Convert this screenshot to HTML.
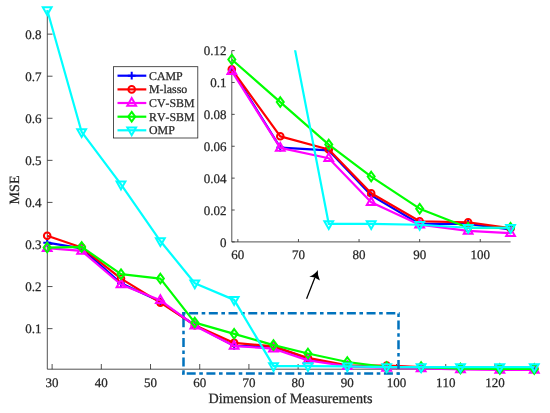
<!DOCTYPE html>
<html><head><meta charset="utf-8"><title>MSE vs Dimension of Measurements</title>
<style>
html,body{margin:0;padding:0;background:#fff;}
body{width:550px;height:413px;overflow:hidden;}
svg{display:block;}
text{font-family:"Liberation Serif","Times New Roman",serif;fill:#262626;stroke:#262626;stroke-width:0.25px;text-rendering:geometricPrecision;font-kerning:none;}
</style></head><body>
<svg width="550" height="413" viewBox="0 0 550 413">
<rect width="550" height="413" fill="#fff"/>
<defs>
<clipPath id="cm"><rect x="40" y="0" width="505" height="376"/></clipPath>
<clipPath id="ci"><rect x="226" y="50.2" width="292" height="198"/></clipPath>
</defs>

<g stroke="#262626" stroke-width="0.8" fill="none">
<path d="M47.3 10.6V369.2H534.3"/>
<path d="M47.3 328.63h5.2"/>
<path d="M47.3 286.56h5.2"/>
<path d="M47.3 244.49h5.2"/>
<path d="M47.3 202.42h5.2"/>
<path d="M47.3 160.35h5.2"/>
<path d="M47.3 118.28h5.2"/>
<path d="M47.3 76.21h5.2"/>
<path d="M47.3 34.14h5.2"/>
<path d="M52.12 369.2v-5.2"/>
<path d="M101.32 369.2v-5.2"/>
<path d="M150.52 369.2v-5.2"/>
<path d="M199.72 369.2v-5.2"/>
<path d="M248.92 369.2v-5.2"/>
<path d="M298.12 369.2v-5.2"/>
<path d="M347.32 369.2v-5.2"/>
<path d="M396.52 369.2v-5.2"/>
<path d="M445.72 369.2v-5.2"/>
<path d="M494.92 369.2v-5.2"/>
</g>
<g font-size="13.0" text-anchor="end">
<text x="41.6" y="333.23">0.1</text>
<text x="41.6" y="291.16">0.2</text>
<text x="41.6" y="249.09">0.3</text>
<text x="41.6" y="207.02">0.4</text>
<text x="41.6" y="164.95">0.5</text>
<text x="41.6" y="122.88">0.6</text>
<text x="41.6" y="80.81">0.7</text>
<text x="41.6" y="38.74">0.8</text>
</g>
<g font-size="13.0" text-anchor="middle">
<text x="52.12" y="387.0">30</text>
<text x="101.32" y="387.0">40</text>
<text x="150.52" y="387.0">50</text>
<text x="199.72" y="387.0">60</text>
<text x="248.92" y="387.0">70</text>
<text x="298.12" y="387.0">80</text>
<text x="347.32" y="387.0">90</text>
<text x="396.52" y="387.0">100</text>
<text x="445.72" y="387.0">110</text>
<text x="494.92" y="387.0">120</text>
</g>
<text x="290.5" y="403.2" font-size="14.2" text-anchor="middle">Dimension of Measurements</text>
<text transform="translate(19.3 190) rotate(-90)" font-size="14.1" text-anchor="middle">MSE</text>
<g fill="none" stroke="#0072bd" stroke-width="2.5">
<path d="M182.25 313.3H399.65" stroke-dasharray="9 3.56 3.6 3.56" stroke-dashoffset="12.87"/>
<path d="M182.25 373.5H399.65" stroke-dasharray="9 3.56 3.6 3.56" stroke-dashoffset="15.27"/>
<path d="M183.5 312.05V327.3M183.5 330.75V334.35M183.5 337.9V346.9M183.5 350.45V354.05M183.5 357.6V366.6M183.5 370.15V374.75"/>
</g>
<g clip-path="url(#cm)">
<polyline points="47.20,242.70 81.64,248.40 121.00,283.21 160.36,301.57 194.80,325.26 234.16,345.88 273.52,346.64 307.96,358.50 347.32,366.07 386.68,366.07 421.12,367.54 460.48,368.18 499.84,368.60 534.28,368.60" fill="none" stroke="#0000ff" stroke-width="2.2" stroke-linejoin="round"/>
<path d="M43.30 242.70H51.10M47.20 238.80V246.60" stroke="#0000ff" stroke-width="2.0" fill="none"/>
<path d="M77.74 248.40H85.54M81.64 244.50V252.30" stroke="#0000ff" stroke-width="2.0" fill="none"/>
<path d="M117.10 283.21H124.90M121.00 279.31V287.11" stroke="#0000ff" stroke-width="2.0" fill="none"/>
<path d="M156.46 301.57H164.26M160.36 297.67V305.47" stroke="#0000ff" stroke-width="2.0" fill="none"/>
<path d="M190.90 325.26H198.70M194.80 321.36V329.16" stroke="#0000ff" stroke-width="2.0" fill="none"/>
<path d="M230.26 345.88H238.06M234.16 341.98V349.78" stroke="#0000ff" stroke-width="2.0" fill="none"/>
<path d="M269.62 346.64H277.42M273.52 342.74V350.54" stroke="#0000ff" stroke-width="2.0" fill="none"/>
<path d="M304.06 358.50H311.86M307.96 354.60V362.40" stroke="#0000ff" stroke-width="2.0" fill="none"/>
<path d="M343.42 366.07H351.22M347.32 362.17V369.97" stroke="#0000ff" stroke-width="2.0" fill="none"/>
<path d="M382.78 366.07H390.58M386.68 362.17V369.97" stroke="#0000ff" stroke-width="2.0" fill="none"/>
<path d="M417.22 367.54H425.02M421.12 363.64V371.44" stroke="#0000ff" stroke-width="2.0" fill="none"/>
<path d="M456.58 368.18H464.38M460.48 364.28V372.08" stroke="#0000ff" stroke-width="2.0" fill="none"/>
<path d="M495.94 368.60H503.74M499.84 364.70V372.50" stroke="#0000ff" stroke-width="2.0" fill="none"/>
<path d="M530.38 368.60H538.18M534.28 364.70V372.50" stroke="#0000ff" stroke-width="2.0" fill="none"/>
<polyline points="47.20,235.74 81.64,247.55 121.00,278.57 160.36,302.62 194.80,325.18 234.16,342.89 273.52,346.38 307.96,357.95 347.32,365.36 386.68,365.65 421.12,367.17 460.48,368.09 499.84,368.60 534.28,368.60" fill="none" stroke="#ff0000" stroke-width="2.2" stroke-linejoin="round"/>
<circle cx="47.20" cy="235.74" r="3.3" stroke="#ff0000" stroke-width="2.0" fill="none"/>
<circle cx="81.64" cy="247.55" r="3.3" stroke="#ff0000" stroke-width="2.0" fill="none"/>
<circle cx="121.00" cy="278.57" r="3.3" stroke="#ff0000" stroke-width="2.0" fill="none"/>
<circle cx="160.36" cy="302.62" r="3.3" stroke="#ff0000" stroke-width="2.0" fill="none"/>
<circle cx="194.80" cy="325.18" r="3.3" stroke="#ff0000" stroke-width="2.0" fill="none"/>
<circle cx="234.16" cy="342.89" r="3.3" stroke="#ff0000" stroke-width="2.0" fill="none"/>
<circle cx="273.52" cy="346.38" r="3.3" stroke="#ff0000" stroke-width="2.0" fill="none"/>
<circle cx="307.96" cy="357.95" r="3.3" stroke="#ff0000" stroke-width="2.0" fill="none"/>
<circle cx="347.32" cy="365.36" r="3.3" stroke="#ff0000" stroke-width="2.0" fill="none"/>
<circle cx="386.68" cy="365.65" r="3.3" stroke="#ff0000" stroke-width="2.0" fill="none"/>
<circle cx="421.12" cy="367.17" r="3.3" stroke="#ff0000" stroke-width="2.0" fill="none"/>
<circle cx="460.48" cy="368.09" r="3.3" stroke="#ff0000" stroke-width="2.0" fill="none"/>
<circle cx="499.84" cy="368.60" r="3.3" stroke="#ff0000" stroke-width="2.0" fill="none"/>
<circle cx="534.28" cy="368.60" r="3.3" stroke="#ff0000" stroke-width="2.0" fill="none"/>
<polyline points="47.20,248.19 81.64,250.93 121.00,284.48 160.36,300.30 194.80,325.69 234.16,345.96 273.52,348.70 307.96,360.35 347.32,366.28 386.68,367.92 421.12,368.51 460.48,369.44 499.84,369.86 534.28,369.86" fill="none" stroke="#ff00ff" stroke-width="2.2" stroke-linejoin="round"/>
<path d="M47.20 243.19L51.60 250.99H42.80Z" stroke="#ff00ff" stroke-width="2.0" fill="none" stroke-linejoin="miter"/>
<path d="M81.64 245.93L86.04 253.73H77.24Z" stroke="#ff00ff" stroke-width="2.0" fill="none" stroke-linejoin="miter"/>
<path d="M121.00 279.48L125.40 287.28H116.60Z" stroke="#ff00ff" stroke-width="2.0" fill="none" stroke-linejoin="miter"/>
<path d="M160.36 295.30L164.76 303.10H155.96Z" stroke="#ff00ff" stroke-width="2.0" fill="none" stroke-linejoin="miter"/>
<path d="M194.80 320.69L199.20 328.49H190.40Z" stroke="#ff00ff" stroke-width="2.0" fill="none" stroke-linejoin="miter"/>
<path d="M234.16 340.96L238.56 348.76H229.76Z" stroke="#ff00ff" stroke-width="2.0" fill="none" stroke-linejoin="miter"/>
<path d="M273.52 343.70L277.92 351.50H269.12Z" stroke="#ff00ff" stroke-width="2.0" fill="none" stroke-linejoin="miter"/>
<path d="M307.96 355.35L312.36 363.15H303.56Z" stroke="#ff00ff" stroke-width="2.0" fill="none" stroke-linejoin="miter"/>
<path d="M347.32 361.28L351.72 369.08H342.92Z" stroke="#ff00ff" stroke-width="2.0" fill="none" stroke-linejoin="miter"/>
<path d="M386.68 362.92L391.08 370.72H382.28Z" stroke="#ff00ff" stroke-width="2.0" fill="none" stroke-linejoin="miter"/>
<path d="M421.12 363.51L425.52 371.31H416.72Z" stroke="#ff00ff" stroke-width="2.0" fill="none" stroke-linejoin="miter"/>
<path d="M460.48 364.44L464.88 372.24H456.08Z" stroke="#ff00ff" stroke-width="2.0" fill="none" stroke-linejoin="miter"/>
<path d="M499.84 364.86L504.24 372.66H495.44Z" stroke="#ff00ff" stroke-width="2.0" fill="none" stroke-linejoin="miter"/>
<path d="M534.28 364.86L538.68 372.66H529.88Z" stroke="#ff00ff" stroke-width="2.0" fill="none" stroke-linejoin="miter"/>
<polyline points="47.20,247.55 81.64,246.92 121.00,274.14 160.36,278.61 194.80,322.57 234.16,333.85 273.52,345.08 307.96,353.54 347.32,362.03 386.68,367.08 421.12,367.08 460.48,368.60 499.84,369.02 534.28,369.02" fill="none" stroke="#00ff00" stroke-width="2.2" stroke-linejoin="round"/>
<path d="M47.20 242.75L50.70 247.55L47.20 252.35L43.70 247.55Z" stroke="#00ff00" stroke-width="2.0" fill="none" stroke-linejoin="miter"/>
<path d="M81.64 242.12L85.14 246.92L81.64 251.72L78.14 246.92Z" stroke="#00ff00" stroke-width="2.0" fill="none" stroke-linejoin="miter"/>
<path d="M121.00 269.34L124.50 274.14L121.00 278.94L117.50 274.14Z" stroke="#00ff00" stroke-width="2.0" fill="none" stroke-linejoin="miter"/>
<path d="M160.36 273.81L163.86 278.61L160.36 283.41L156.86 278.61Z" stroke="#00ff00" stroke-width="2.0" fill="none" stroke-linejoin="miter"/>
<path d="M194.80 317.77L198.30 322.57L194.80 327.37L191.30 322.57Z" stroke="#00ff00" stroke-width="2.0" fill="none" stroke-linejoin="miter"/>
<path d="M234.16 329.05L237.66 333.85L234.16 338.65L230.66 333.85Z" stroke="#00ff00" stroke-width="2.0" fill="none" stroke-linejoin="miter"/>
<path d="M273.52 340.28L277.02 345.08L273.52 349.88L270.02 345.08Z" stroke="#00ff00" stroke-width="2.0" fill="none" stroke-linejoin="miter"/>
<path d="M307.96 348.74L311.46 353.54L307.96 358.34L304.46 353.54Z" stroke="#00ff00" stroke-width="2.0" fill="none" stroke-linejoin="miter"/>
<path d="M347.32 357.23L350.82 362.03L347.32 366.83L343.82 362.03Z" stroke="#00ff00" stroke-width="2.0" fill="none" stroke-linejoin="miter"/>
<path d="M386.68 362.28L390.18 367.08L386.68 371.88L383.18 367.08Z" stroke="#00ff00" stroke-width="2.0" fill="none" stroke-linejoin="miter"/>
<path d="M421.12 362.28L424.62 367.08L421.12 371.88L417.62 367.08Z" stroke="#00ff00" stroke-width="2.0" fill="none" stroke-linejoin="miter"/>
<path d="M460.48 363.80L463.98 368.60L460.48 373.40L456.98 368.60Z" stroke="#00ff00" stroke-width="2.0" fill="none" stroke-linejoin="miter"/>
<path d="M499.84 364.22L503.34 369.02L499.84 373.82L496.34 369.02Z" stroke="#00ff00" stroke-width="2.0" fill="none" stroke-linejoin="miter"/>
<path d="M534.28 364.22L537.78 369.02L534.28 373.82L530.78 369.02Z" stroke="#00ff00" stroke-width="2.0" fill="none" stroke-linejoin="miter"/>
<polyline points="47.20,9.97 81.64,131.93 121.00,184.38 160.36,241.01 194.80,283.21 234.16,299.88 273.52,366.07 307.96,366.07 347.32,366.28 386.68,367.08 421.12,367.08 460.48,367.08 499.84,367.08 534.28,367.08" fill="none" stroke="#00ffff" stroke-width="2.2" stroke-linejoin="round"/>
<path d="M47.20 14.97L51.60 7.17H42.80Z" stroke="#00ffff" stroke-width="2.0" fill="none" stroke-linejoin="miter"/>
<path d="M81.64 136.93L86.04 129.13H77.24Z" stroke="#00ffff" stroke-width="2.0" fill="none" stroke-linejoin="miter"/>
<path d="M121.00 189.38L125.40 181.58H116.60Z" stroke="#00ffff" stroke-width="2.0" fill="none" stroke-linejoin="miter"/>
<path d="M160.36 246.01L164.76 238.21H155.96Z" stroke="#00ffff" stroke-width="2.0" fill="none" stroke-linejoin="miter"/>
<path d="M194.80 288.21L199.20 280.41H190.40Z" stroke="#00ffff" stroke-width="2.0" fill="none" stroke-linejoin="miter"/>
<path d="M234.16 304.88L238.56 297.08H229.76Z" stroke="#00ffff" stroke-width="2.0" fill="none" stroke-linejoin="miter"/>
<path d="M273.52 371.07L277.92 363.27H269.12Z" stroke="#00ffff" stroke-width="2.0" fill="none" stroke-linejoin="miter"/>
<path d="M307.96 371.07L312.36 363.27H303.56Z" stroke="#00ffff" stroke-width="2.0" fill="none" stroke-linejoin="miter"/>
<path d="M347.32 371.28L351.72 363.48H342.92Z" stroke="#00ffff" stroke-width="2.0" fill="none" stroke-linejoin="miter"/>
<path d="M386.68 372.08L391.08 364.28H382.28Z" stroke="#00ffff" stroke-width="2.0" fill="none" stroke-linejoin="miter"/>
<path d="M421.12 372.08L425.52 364.28H416.72Z" stroke="#00ffff" stroke-width="2.0" fill="none" stroke-linejoin="miter"/>
<path d="M460.48 372.08L464.88 364.28H456.08Z" stroke="#00ffff" stroke-width="2.0" fill="none" stroke-linejoin="miter"/>
<path d="M499.84 372.08L504.24 364.28H495.44Z" stroke="#00ffff" stroke-width="2.0" fill="none" stroke-linejoin="miter"/>
<path d="M534.28 372.08L538.68 364.28H529.88Z" stroke="#00ffff" stroke-width="2.0" fill="none" stroke-linejoin="miter"/>
</g>
<path d="M398.5 312.05V374.75" fill="none" stroke="#0072bd" stroke-width="2.5" stroke-dasharray="9 3.56 3.6 3.56" stroke-dashoffset="11.17"/>
<g stroke="#262626" stroke-width="0.8" fill="none">
<path d="M231.8 50.6V241.9H510.6"/>
<path d="M231.8 241.90h2.9"/>
<path d="M231.8 210.02h2.9"/>
<path d="M231.8 178.13h2.9"/>
<path d="M231.8 146.25h2.9"/>
<path d="M231.8 114.36h2.9"/>
<path d="M231.8 82.48h2.9"/>
<path d="M231.8 50.60h2.9"/>
<path d="M237.86 241.9v-2.9"/>
<path d="M298.46 241.9v-2.9"/>
<path d="M359.06 241.9v-2.9"/>
<path d="M419.66 241.9v-2.9"/>
<path d="M480.26 241.9v-2.9"/>
</g>
<g font-size="13.0" text-anchor="end">
<text x="226.4" y="246.50">0</text>
<text x="226.4" y="214.62">0.02</text>
<text x="226.4" y="182.73">0.04</text>
<text x="226.4" y="150.85">0.06</text>
<text x="226.4" y="118.96">0.08</text>
<text x="226.4" y="87.08">0.1</text>
<text x="226.4" y="55.20">0.12</text>
</g>
<g font-size="13.0" text-anchor="middle">
<text x="237.86" y="259.4">60</text>
<text x="298.46" y="259.4">70</text>
<text x="359.06" y="259.4">80</text>
<text x="419.66" y="259.4">90</text>
<text x="480.26" y="259.4">100</text>
</g>
<g clip-path="url(#ci)">
<polyline points="231.80,69.68 280.28,147.61 328.76,150.47 371.18,195.33 419.66,223.95 468.14,223.95 510.56,229.52" fill="none" stroke="#0000ff" stroke-width="2.2" stroke-linejoin="round"/>
<path d="M227.90 69.68H235.70M231.80 65.78V73.58" stroke="#0000ff" stroke-width="2.0" fill="none"/>
<path d="M276.38 147.61H284.18M280.28 143.71V151.51" stroke="#0000ff" stroke-width="2.0" fill="none"/>
<path d="M324.86 150.47H332.66M328.76 146.57V154.37" stroke="#0000ff" stroke-width="2.0" fill="none"/>
<path d="M367.28 195.33H375.08M371.18 191.43V199.23" stroke="#0000ff" stroke-width="2.0" fill="none"/>
<path d="M415.76 223.95H423.56M419.66 220.05V227.85" stroke="#0000ff" stroke-width="2.0" fill="none"/>
<path d="M464.24 223.95H472.04M468.14 220.05V227.85" stroke="#0000ff" stroke-width="2.0" fill="none"/>
<path d="M506.66 229.52H514.46M510.56 225.62V233.42" stroke="#0000ff" stroke-width="2.0" fill="none"/>
<polyline points="231.80,69.36 280.28,136.32 328.76,149.52 371.18,193.26 419.66,221.25 468.14,222.36 510.56,228.09" fill="none" stroke="#ff0000" stroke-width="2.2" stroke-linejoin="round"/>
<circle cx="231.80" cy="69.36" r="3.3" stroke="#ff0000" stroke-width="2.0" fill="none"/>
<circle cx="280.28" cy="136.32" r="3.3" stroke="#ff0000" stroke-width="2.0" fill="none"/>
<circle cx="328.76" cy="149.52" r="3.3" stroke="#ff0000" stroke-width="2.0" fill="none"/>
<circle cx="371.18" cy="193.26" r="3.3" stroke="#ff0000" stroke-width="2.0" fill="none"/>
<circle cx="419.66" cy="221.25" r="3.3" stroke="#ff0000" stroke-width="2.0" fill="none"/>
<circle cx="468.14" cy="222.36" r="3.3" stroke="#ff0000" stroke-width="2.0" fill="none"/>
<circle cx="510.56" cy="228.09" r="3.3" stroke="#ff0000" stroke-width="2.0" fill="none"/>
<polyline points="231.80,71.27 280.28,147.93 328.76,158.27 371.18,202.32 419.66,224.75 468.14,230.95 510.56,233.18" fill="none" stroke="#ff00ff" stroke-width="2.2" stroke-linejoin="round"/>
<path d="M231.80 66.27L236.20 74.07H227.40Z" stroke="#ff00ff" stroke-width="2.0" fill="none" stroke-linejoin="miter"/>
<path d="M280.28 142.93L284.68 150.73H275.88Z" stroke="#ff00ff" stroke-width="2.0" fill="none" stroke-linejoin="miter"/>
<path d="M328.76 153.27L333.16 161.07H324.36Z" stroke="#ff00ff" stroke-width="2.0" fill="none" stroke-linejoin="miter"/>
<path d="M371.18 197.32L375.58 205.12H366.78Z" stroke="#ff00ff" stroke-width="2.0" fill="none" stroke-linejoin="miter"/>
<path d="M419.66 219.75L424.06 227.55H415.26Z" stroke="#ff00ff" stroke-width="2.0" fill="none" stroke-linejoin="miter"/>
<path d="M468.14 225.95L472.54 233.75H463.74Z" stroke="#ff00ff" stroke-width="2.0" fill="none" stroke-linejoin="miter"/>
<path d="M510.56 228.18L514.96 235.98H506.16Z" stroke="#ff00ff" stroke-width="2.0" fill="none" stroke-linejoin="miter"/>
<polyline points="231.80,59.50 280.28,102.12 328.76,144.59 371.18,176.56 419.66,208.69 468.14,227.77 510.56,227.77" fill="none" stroke="#00ff00" stroke-width="2.2" stroke-linejoin="round"/>
<path d="M231.80 54.70L235.30 59.50L231.80 64.30L228.30 59.50Z" stroke="#00ff00" stroke-width="2.0" fill="none" stroke-linejoin="miter"/>
<path d="M280.28 97.32L283.78 102.12L280.28 106.92L276.78 102.12Z" stroke="#00ff00" stroke-width="2.0" fill="none" stroke-linejoin="miter"/>
<path d="M328.76 139.79L332.26 144.59L328.76 149.39L325.26 144.59Z" stroke="#00ff00" stroke-width="2.0" fill="none" stroke-linejoin="miter"/>
<path d="M371.18 171.76L374.68 176.56L371.18 181.36L367.68 176.56Z" stroke="#00ff00" stroke-width="2.0" fill="none" stroke-linejoin="miter"/>
<path d="M419.66 203.89L423.16 208.69L419.66 213.49L416.16 208.69Z" stroke="#00ff00" stroke-width="2.0" fill="none" stroke-linejoin="miter"/>
<path d="M468.14 222.97L471.64 227.77L468.14 232.57L464.64 227.77Z" stroke="#00ff00" stroke-width="2.0" fill="none" stroke-linejoin="miter"/>
<path d="M510.56 222.97L514.06 227.77L510.56 232.57L507.06 227.77Z" stroke="#00ff00" stroke-width="2.0" fill="none" stroke-linejoin="miter"/>
<polyline points="231.80,-89.30 280.28,-26.28 328.76,223.95 371.18,223.95 419.66,224.75 468.14,227.77 510.56,227.77" fill="none" stroke="#00ffff" stroke-width="2.2" stroke-linejoin="round"/>
<path d="M328.76 228.95L333.16 221.15H324.36Z" stroke="#00ffff" stroke-width="2.0" fill="none" stroke-linejoin="miter"/>
<path d="M371.18 228.95L375.58 221.15H366.78Z" stroke="#00ffff" stroke-width="2.0" fill="none" stroke-linejoin="miter"/>
<path d="M419.66 229.75L424.06 221.95H415.26Z" stroke="#00ffff" stroke-width="2.0" fill="none" stroke-linejoin="miter"/>
<path d="M468.14 232.77L472.54 224.97H463.74Z" stroke="#00ffff" stroke-width="2.0" fill="none" stroke-linejoin="miter"/>
<path d="M510.56 232.77L514.96 224.97H506.16Z" stroke="#00ffff" stroke-width="2.0" fill="none" stroke-linejoin="miter"/>
</g>
<rect x="113.5" y="66.7" width="84.3" height="71.3" fill="#fff" stroke="#262626" stroke-width="0.8"/>
<path d="M117.5 75.7H146.3" stroke="#0000ff" stroke-width="2.2"/>
<path d="M127.80 75.70H135.60M131.70 71.80V79.60" stroke="#0000ff" stroke-width="2.0" fill="none"/>
<text x="149" y="79.6" font-size="11.9">CAMP</text>
<path d="M117.5 89.4H146.3" stroke="#ff0000" stroke-width="2.2"/>
<circle cx="131.70" cy="89.40" r="3.3" stroke="#ff0000" stroke-width="2.0" fill="none"/>
<text x="149" y="93.3" font-size="11.9">M-lasso</text>
<path d="M117.5 103.0H146.3" stroke="#ff00ff" stroke-width="2.2"/>
<path d="M131.70 98.00L136.10 105.80H127.30Z" stroke="#ff00ff" stroke-width="2.0" fill="none" stroke-linejoin="miter"/>
<text x="149" y="106.9" font-size="11.9">CV-SBM</text>
<path d="M117.5 116.7H146.3" stroke="#00ff00" stroke-width="2.2"/>
<path d="M131.70 111.90L135.20 116.70L131.70 121.50L128.20 116.70Z" stroke="#00ff00" stroke-width="2.0" fill="none" stroke-linejoin="miter"/>
<text x="149" y="120.6" font-size="11.9">RV-SBM</text>
<path d="M117.5 130.3H146.3" stroke="#00ffff" stroke-width="2.2"/>
<path d="M131.70 135.30L136.10 127.50H127.30Z" stroke="#00ffff" stroke-width="2.0" fill="none" stroke-linejoin="miter"/>
<text x="149" y="134.2" font-size="11.9">OMP</text>
<path d="M306.6 298.7L314.9 277.6" stroke="#000" stroke-width="1.25" fill="none"/>
<path d="M317.75 269.9Q315.2 274.2 309.3 276.6L314.6 277.6L319.9 280.6Q317.4 275.3 317.75 269.9Z" fill="#000"/>
</svg></body></html>
